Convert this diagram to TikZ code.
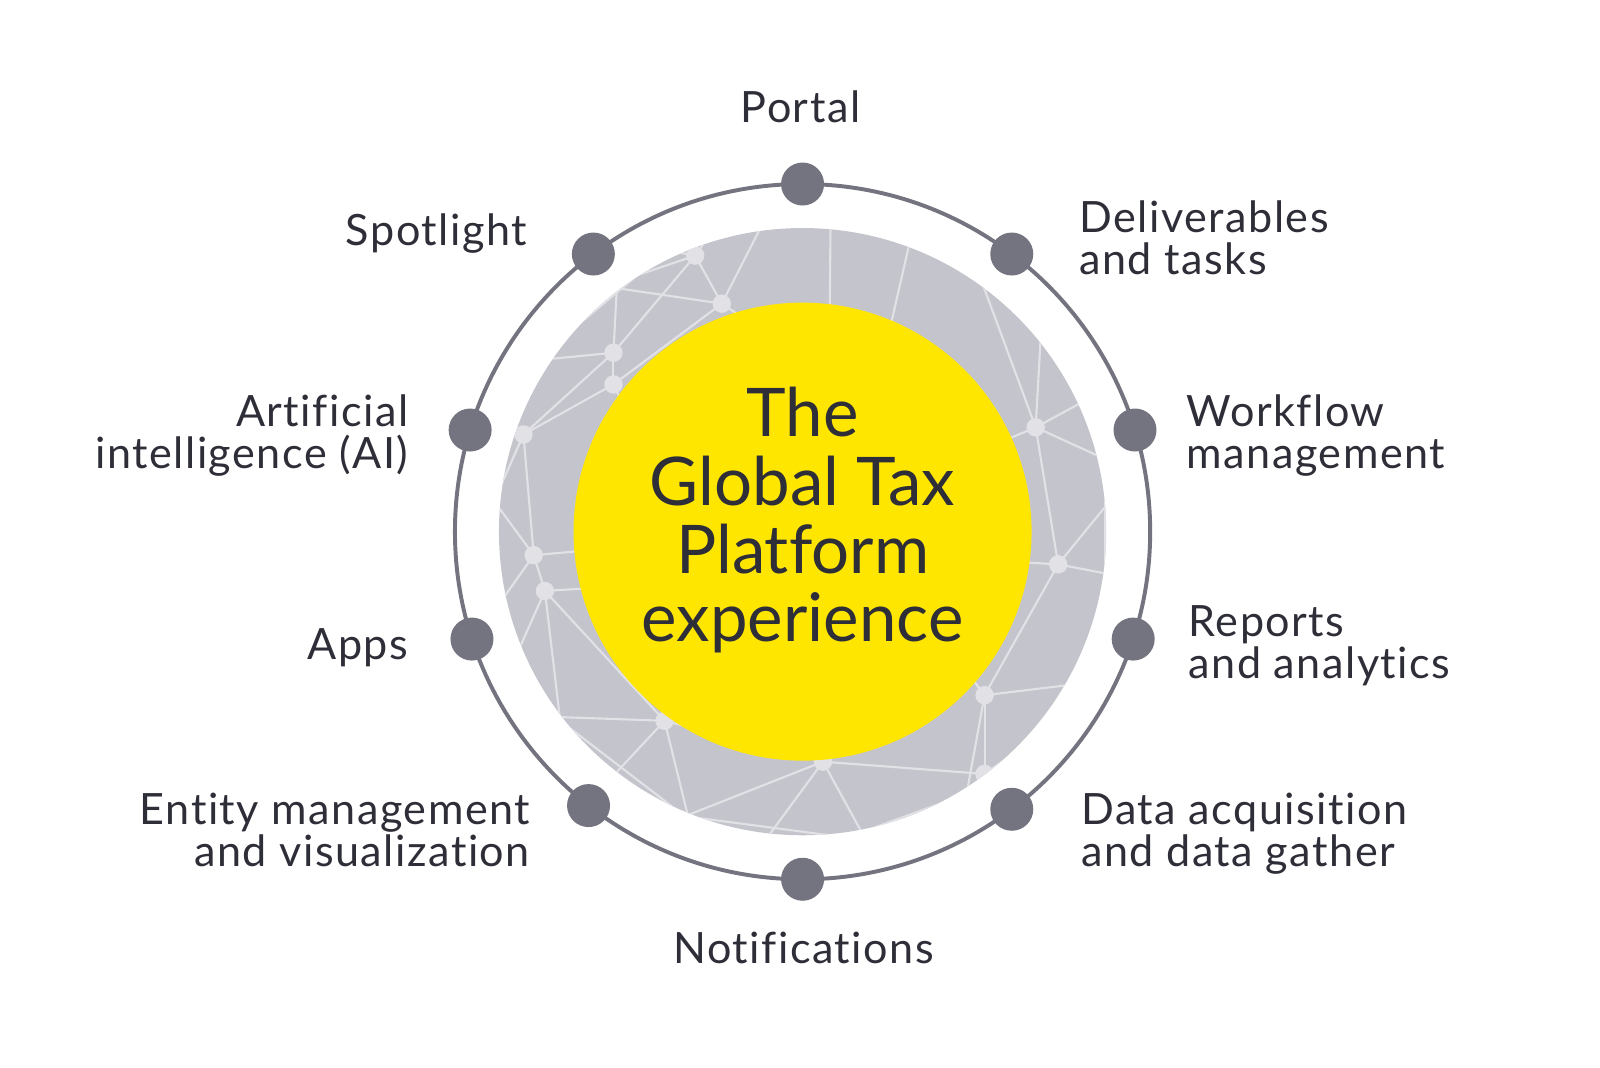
\documentclass[tikz,border=0pt]{standalone}
\usepackage{fontspec}
\setmainfont{Lato}[LetterSpace=3.5, Ligatures=CommonOff]
\newfontfamily\titlefont{Lato}[Ligatures=CommonOff]
\usetikzlibrary{calc}

\definecolor{eydark}{HTML}{2E2E38}
\definecolor{eygrey}{HTML}{747480}
\definecolor{eyyellow}{HTML}{FFE600}
\definecolor{netgrey}{HTML}{C4C4CD}
\definecolor{netline}{HTML}{E1E1E6}

\tikzset{
  dot/.style={circle, fill=eygrey, inner sep=0pt, minimum size=0.43cm},
  knot/.style={circle, fill=netline, inner sep=0pt, minimum size=0.184cm},
  lbl/.style={text=eydark, inner sep=0pt, font=\fontsize{12.27}{11.95}\selectfont},
  web/.style={draw=netline, line width=0.6pt},
}

\begin{document}
\begin{tikzpicture}[x=0.010224cm,y=-0.010224cm]
\useasboundingbox (0,0) rectangle (1565,1043.67);
\coordinate (c) at (785,520);

% grey disc with the network
\fill[netgrey] (c) circle[radius=3.036cm];
\begin{scope}
\clip (c) circle[radius=3.036cm];
\foreach \t in {8,12,20,25,30,42,50,58,62,70,78,85,96,105,110,118,125,130,132,148,150,158,172,180,195,205,210,215,222,232,240,245,250,255,262,270,282,285,298,300,310,312,325,332,340,352}
  \coordinate (a\t) at ($(c)+(\t:3.22cm)$);
\foreach \t in {25,62,75,80,160,185,200,325,350}
  \coordinate (i\t) at ($(c)+(\t:1.53cm)$);
\coordinate (d1) at (680,250);
\coordinate (d2) at (706,297);
\coordinate (d3) at (600,345);
\coordinate (d4) at (600,376);
\coordinate (d5) at (512,425);
\coordinate (d6) at (522,543);
\coordinate (d7) at (533,578);
\coordinate (d8) at (1013,418);
\coordinate (d9) at (1035,552);
\coordinate (d10) at (963,680);
\coordinate (d11) at (963,757);
\coordinate (d12) at (650,705);
\coordinate (d13) at (805,745);
\foreach \u/\v in {d1/a105, d1/a118, d1/d2, d1/d3, d1/a132, d2/a96, d2/i75, d2/a130,
  d2/d4, d3/d4, d3/d5, d3/a148, d3/a125, d4/d5, d4/i160, d5/a158, d5/a180, d5/d6,
  d6/d7, d6/a172, d6/i185, d6/a195, d7/a205, d7/a222, d7/d12, d7/i200, d12/a232,
  d12/a250, d12/d13, d12/a215, d13/a262, d13/a282, d13/d11, d13/a245, d11/a298,
  d11/a312, d11/d10, d11/a325, d10/a332, d10/d9, d10/i325, d10/a300, d9/a352,
  d9/a8, d9/d8, d9/i350, d8/a25, d8/a42, d8/a12, d8/i25, d8/a58, a85/i80, a70/i62,
  a78/a50, a62/a30, a240/a285, a210/a255, a270/a310, a340/a20, a110/a150}
  {\draw[web] (\u) -- (\v);}
\foreach \n in {1,...,13}
  {\node[knot] (k\n) at (d\n) {};}
\end{scope}

% yellow core and title
\node[circle, fill=eyyellow, inner sep=0pt, minimum size=4.58cm] (core) at (c) {};
\node[text=eydark, align=center, inner sep=0pt, font=\titlefont\fontsize{19.1}{19.45}\selectfont]
  (title) at (785,509) {The\\Global Tax\\Platform\\experience};

% outer ring with the ten points
\draw[eygrey, line width=1.12pt] (c) circle[radius=3.476cm];
\foreach \a/\n in {90/portal, 53/deliv, 17/workflow, -18/reports, -53/data,
  -90/notif, -128/entity, -162/apps, 163/ai, 127/spot}
  {\node[dot] (\n) at ($(c)+(\a:3.476cm)$) {};}

% labels (two-line ones sit on the baseline of their last line)
\node[lbl, anchor=base] (portal-t) at (783,120) {Portal};
\node[lbl, anchor=base east] (spot-t) at (516,240) {Spotlight};
\node[lbl, anchor=base west, align=left] (deliv-t) at (1055,268) {Deliverables\\and tasks};
\node[lbl, anchor=base east, align=right] (ai-t) at (400,458) {Artificial\\intelligence (AI)};
\node[lbl, anchor=base west, align=left] (workflow-t) at (1160,458) {Workflow\\management};
\node[lbl, anchor=base east] (apps-t) at (400,645) {Apps};
\node[lbl, anchor=base west, align=left] (reports-t) at (1162,664) {Reports\\and analytics};
\node[lbl, anchor=base east, align=right] (entity-t) at (519,848) {Entity management\\and visualization};
\node[lbl, anchor=base west, align=left] (data-t) at (1057,848) {Data acquisition\\and data gather};
\node[lbl, anchor=base] (notif-t) at (786,942) {Notifications};
\end{tikzpicture}
\end{document}
